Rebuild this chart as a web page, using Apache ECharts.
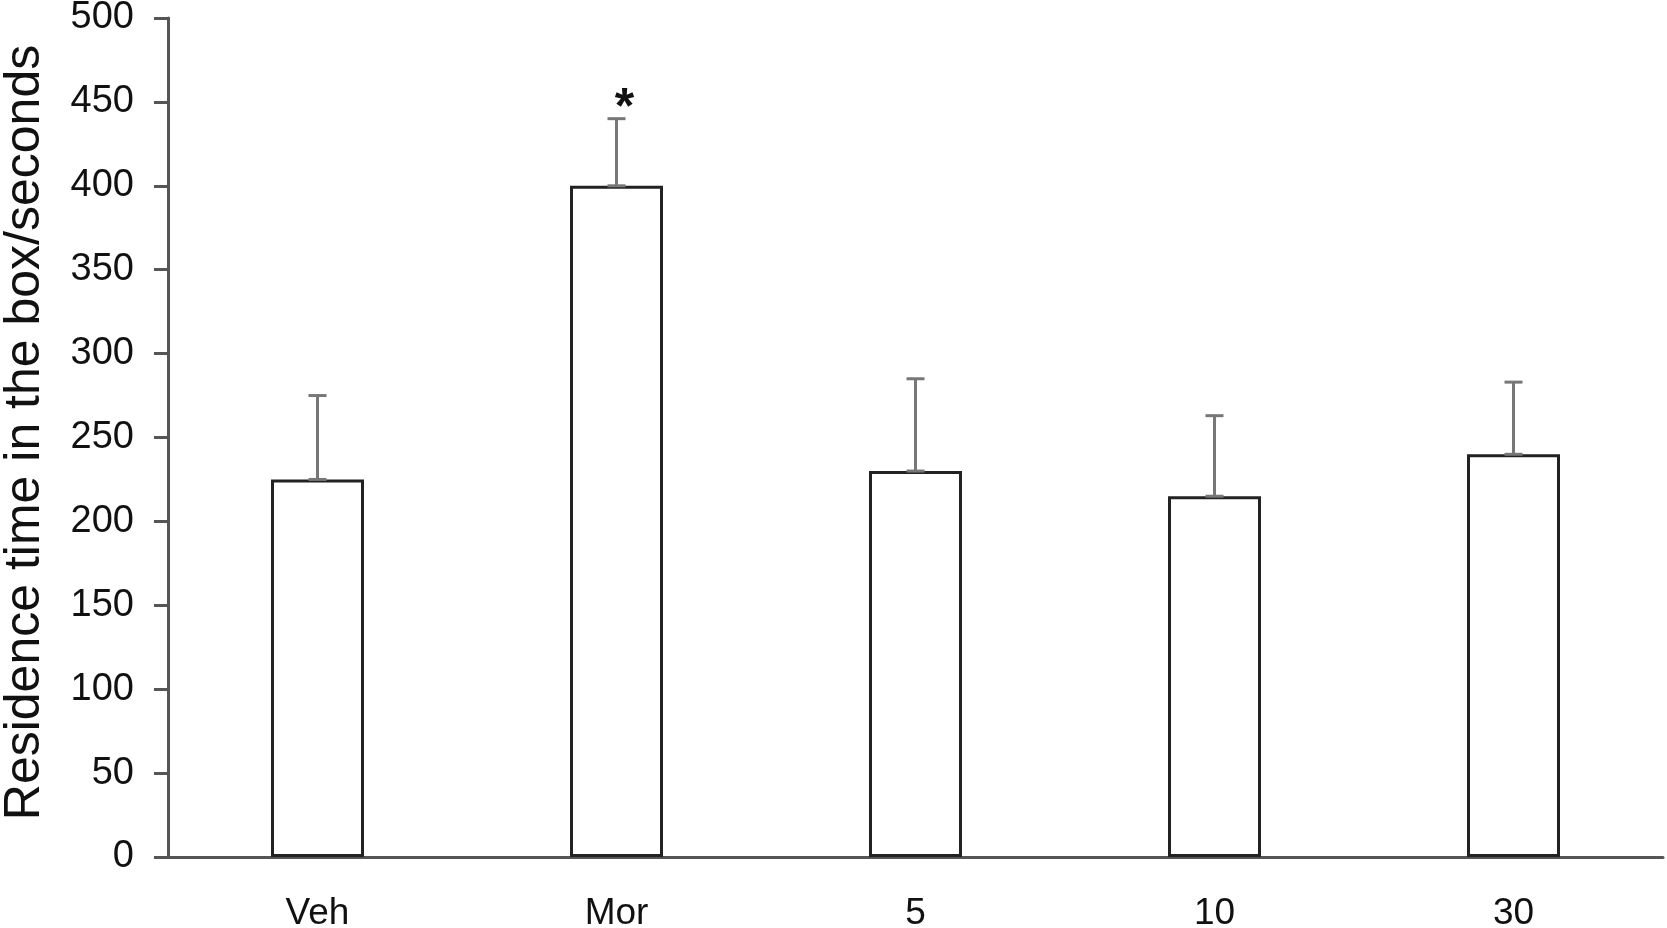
<!DOCTYPE html>
<html>
<head>
<meta charset="utf-8">
<script src="https://cdn.jsdelivr.net/npm/echarts@6/dist/echarts.min.js"></script>
<style>
html,body{margin:0;padding:0;background:#fff;}
#chart{width:1667px;height:928px;}
</style>
</head>
<body>
<div id="chart"></div>
<script>
const categories = ['Veh', 'Mor', '5', '10', '30'];
const meanValues = [225, 400, 230, 215, 240];
const errorTops = [275, 440, 285, 263, 283];
const sigMarks = ['', '*', '', '', ''];
const yTicks = [0, 50, 100, 150, 200, 250, 300, 350, 400, 450, 500];

const FONT = 'Liberation Sans';
const chart = echarts.init(document.getElementById('chart'));

const errData = categories.map((c, i) => [i, meanValues[i], errorTops[i], sigMarks[i]]);

chart.setOption({
  animation: false,
  backgroundColor: '#fff',
  grid: { left: 168, right: 4, top: 18, bottom: 71, containLabel: false, outerBoundsMode: 'none' },
  xAxis: {
    type: 'category',
    data: categories,
    axisLine: { lineStyle: { color: '#555', width: 3 } },
    axisTick: { show: false },
    axisLabel: { fontFamily: FONT, fontSize: 37, color: '#111', margin: 38 }
  },
  yAxis: {
    type: 'value',
    min: yTicks[0],
    max: yTicks[yTicks.length - 1],
    interval: 50,
    name: 'Residence time in the box/seconds',
    nameLocation: 'middle',
    nameGap: 118,
    nameTextStyle: { fontFamily: FONT, fontSize: 50, color: '#111', padding: [0, 0, 0, 10] },
    axisLine: { show: true, lineStyle: { color: '#555', width: 3 } },
    axisTick: { show: true, length: 14, lineStyle: { color: '#555', width: 3 } },
    axisLabel: { fontFamily: FONT, fontSize: 38, color: '#111', margin: 34 },
    splitLine: { show: false }
  },
  series: [
    {
      type: 'bar',
      data: meanValues,
      barWidth: 93,
      itemStyle: { color: '#fff', borderColor: '#222', borderWidth: 3 },
      z: 2
    },
    {
      type: 'custom',
      data: errData,
      z: 3,
      renderItem: function (params, api) {
        const x = api.value(0);
        const base = api.coord([x, api.value(1)]);
        const top = api.coord([x, api.value(2)]);
        const half = 9;
        const children = [
          { type: 'line', shape: { x1: base[0], y1: base[1], x2: top[0], y2: top[1] }, style: { stroke: '#777', lineWidth: 3 } },
          { type: 'line', shape: { x1: top[0] - half, y1: top[1], x2: top[0] + half, y2: top[1] }, style: { stroke: '#777', lineWidth: 3 } },
          { type: 'line', shape: { x1: base[0] - half, y1: base[1], x2: base[0] + half, y2: base[1] }, style: { stroke: '#777', lineWidth: 3 } }
        ];
        const mark = api.value(3);
        if (mark) {
          children.push({ type: 'text', x: top[0] + 8, y: top[1] + 16, style: { text: mark, fontFamily: FONT, fontSize: 50, fontWeight: 'bold', fill: '#111', align: 'center', verticalAlign: 'bottom' } });
        }
        return { type: 'group', children: children };
      }
    }
  ]
});
</script>
</body>
</html>
